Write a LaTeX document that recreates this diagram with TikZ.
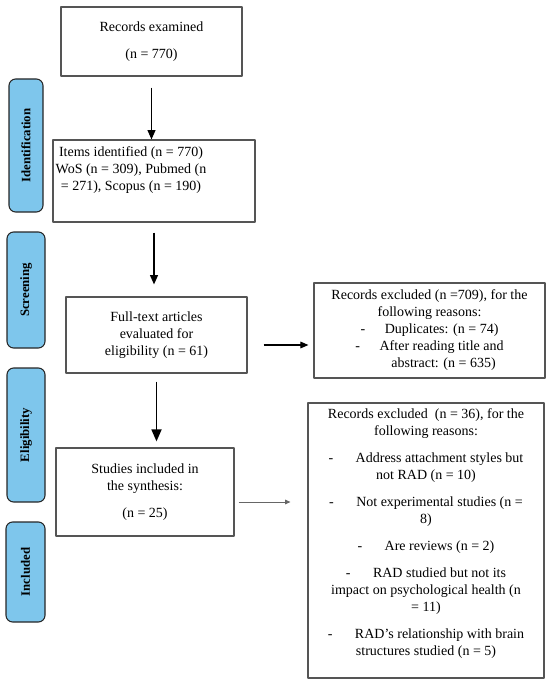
\documentclass[tikz,border=0pt]{standalone}
\usepackage{fontspec}
\setmainfont{Liberation Serif}
\usetikzlibrary{arrows.meta}
\definecolor{tabblue}{RGB}{126,198,236}
\definecolor{boxgray}{RGB}{85,85,85}
\tikzset{
  box/.style={draw=boxgray,line width=0.9pt,align=center,inner sep=0pt,font=\fontsize{10.5}{12.75}\selectfont},
  tab/.style={draw=black!85,fill=tabblue,rounded corners=5pt,line width=0.8pt,rotate=90,font=\fontsize{9.6}{11}\selectfont\bfseries,inner sep=0pt},
  flow/.style={-{Triangle[length=7pt,width=6pt]},line width=0.8pt},
  thinflow/.style={-{Triangle[length=4pt,width=3.5pt]},line width=0.7pt,draw=black!60}
}
\begin{document}
\begin{tikzpicture}[x=0.75pt,y=-0.75pt,line join=round]
  \useasboundingbox (0,0) rectangle (550,684);
  % stage tabs
  \node[tab,minimum width=99.75pt,minimum height=25.5pt] (ident) at (26,145.5) {Identification};
  \node[tab,minimum width=87pt,minimum height=28.5pt] (screen) at (26,290) {Screening};
  \node[tab,minimum width=100.5pt,minimum height=28.5pt] (elig) at (26,435) {Eligibility};
  \node[tab,minimum width=75pt,minimum height=29.25pt] (incl) at (25.5,572) {Included};
  % main column
  \node[box,minimum width=135.75pt,minimum height=51.75pt] (records) at (151.5,41.5) {Records examined\\[8pt](n = 770)};
  \node[box,minimum width=151.5pt,minimum height=61.5pt] (items) at (154,181) {};
  \node[box,draw=none] (itemstext) at (131,170.5) {Items identified (n = 770)\\WoS (n = 309), Pubmed (n\\= 271), Scopus (n = 190)};
  \node[box,minimum width=135.75pt,minimum height=57pt] (fulltext) at (156.5,335) {Full-text articles\\evaluated for\\eligibility (n = 61)};
  \node[box,minimum width=133.5pt,minimum height=66pt] (studies) at (145,492) {Studies included in\\the synthesis:\\[7pt](n = 25)};
  % exclusion boxes
  \node[box,minimum width=173.25pt,minimum height=71.25pt] (excl1) at (429.5,330.5) {Records excluded (n =709), for the\\following reasons:\\-\hspace{1.4em}Duplicates: (n = 74)\\-\hspace{1.4em}After reading title and\\\hspace{2em}abstract: (n = 635)};
  \node[box,minimum width=177pt,minimum height=206.25pt] (excl2) at (426,540.5) {Records excluded\ \ (n = 36), for the\\following reasons:\\[7.5pt]-\hspace{1.6em}Address attachment styles but\\not RAD (n = 10)\\[7.5pt]-\hspace{1.6em}Not experimental studies (n =\\8)\\[7.5pt]-\hspace{1.6em}Are reviews (n = 2)\\[7.5pt]-\hspace{1.6em}RAD studied but not its\\impact on psychological health (n\\= 11)\\[7.5pt]-\hspace{1.6em}RAD's relationship with brain\\structures studied (n = 5)\rule[-13pt]{0pt}{0pt}};
  % arrows
  \draw[flow,shorten <=8.25pt] (records.south) -- (records.south |- items.north);
  \draw[flow,shorten <=7.5pt,shorten >=9pt] (items.south) -- (items.south |- fulltext.north);
  \draw[flow,line width=1.3pt,-{Triangle[length=9pt,width=7.5pt]},shorten <=6pt,shorten >=4.5pt] (fulltext.south) -- (fulltext.south |- studies.north);
  \draw[flow,-{Triangle[length=6pt,width=5pt]},shorten <=12pt,shorten >=3.75pt] ([yshift=-7.5pt]fulltext.east) -- ([yshift=-7.5pt]fulltext.east -| excl1.west);
  \draw[thinflow,shorten <=3pt,shorten >=12.75pt] ([yshift=-7.5pt]studies.east) -- ([yshift=-7.5pt]studies.east -| excl2.west);
\end{tikzpicture}
\end{document}
